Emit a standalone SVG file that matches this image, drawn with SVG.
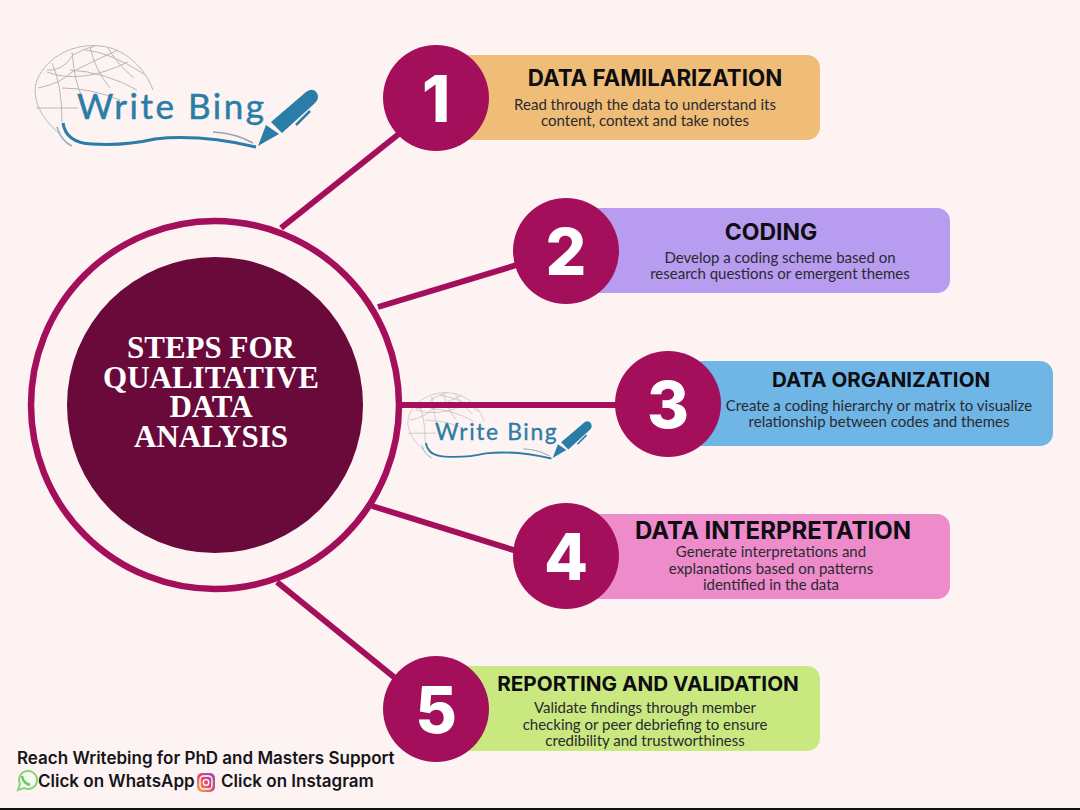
<svg xmlns="http://www.w3.org/2000/svg" xmlns:xlink="http://www.w3.org/1999/xlink" width="1080" height="810" viewBox="0 0 1080 810">
<style>
.num{font-family:"Inter","Liberation Sans",sans-serif;font-weight:800;font-size:64px;fill:#fff;text-anchor:middle}
.ttl{font-family:"Inter","Liberation Sans",sans-serif;font-weight:700;fill:#0d0d12;text-anchor:middle}
.txt{font-family:"Lato","Liberation Sans",sans-serif;font-size:15px;fill:#2a2a30;text-anchor:middle}
.cen{font-family:"Liberation Serif",serif;font-weight:700;font-size:31px;fill:#fff;text-anchor:middle}
.foot{font-family:"Inter","Liberation Sans",sans-serif;font-weight:600;font-size:17px;fill:#15151a}
.conn{stroke:#a30f5b;stroke-width:6;fill:none}
.disc{fill:#a30f5b}
.g{fill:none;stroke:#bdb6b6;stroke-width:1}
</style>
<defs>
<g id="logo">
<g class="g">
<path d="M60 134C40 118 31 97 37 80C47 56 75 43 100 46C125 48 145 68 153 90"/>
<path d="M36 108Q58 108 78 108M38 88Q60 84 72 72Q95 60 118 50M47 70Q62 72 73 55Q85 48 95 46"/>
<path d="M52 63Q62 85 62 122M72 52Q75 85 82 96M90 47Q95 70 110 88M108 48Q118 65 134 78M47 72Q80 85 128 62"/>
<path d="M62 88Q90 88 120 100M70 70Q105 72 137 90M85 50Q110 52 144 74"/>
</g>
<text x="77" y="119" font-family="Lato,'Liberation Sans',sans-serif" font-size="35" fill="#2a7da6" stroke="#2a7da6" stroke-width=".5" textLength="187" lengthAdjust="spacing">Write Bing</text>
<path d="M63 123Q66 143 92 144Q125 146 155 139Q200 134 256 147" fill="none" stroke="#2a7da6" stroke-width="3"/>
<path d="M57 127Q61 141 72 146" fill="none" stroke="#8fb3c4" stroke-width="1.5"/>
<path d="M213 132Q235 133 253 143" fill="none" stroke="#9aa5aa" stroke-width="1.5"/>
<path d="M258 146L266 125L279 134Z" fill="#2a7da6"/>
<path d="M271 122L306 92Q313 87 317 93Q320 99 314 104L282 133Z" fill="#2a7da6"/>
<path d="M310 111L296 125" stroke="#2a7da6" stroke-width="2.500" fill="none"/>
</g>
<linearGradient id="ig" x1="0" y1="1" x2="1" y2="0"><stop offset="0" stop-color="#f5b04a"/><stop offset=".5" stop-color="#e2486e"/><stop offset="1" stop-color="#8a4fc4"/></linearGradient>
</defs>
<rect width="1080" height="810" fill="#fdf3f3"/>
<rect y="808" width="1080" height="2" fill="#111"/>
<use id="logo-main" href="#logo" xlink:href="#logo"/>
<g id="logo-small" transform="translate(385 363) scale(.65)"><use href="#logo" xlink:href="#logo"/></g>
<g id="connectors">
<path class="conn" d="M281 228L400 133"/>
<path class="conn" d="M378 307L520 264"/>
<path class="conn" d="M402 405H620"/>
<path class="conn" d="M372 506L520 552"/>
<path class="conn" d="M277 582L400 682"/>
</g>
<g id="center">
<circle cx="215" cy="405" r="184" fill="none" stroke="#a30f5b" stroke-width="6.500"/>
<circle cx="215" cy="405" r="148" fill="#690a3b"/>
<text class="cen" x="211" y="358">STEPS FOR</text>
<text class="cen" x="211" y="388">QUALITATIVE</text>
<text class="cen" x="211" y="417">DATA</text>
<text class="cen" x="211" y="447">ANALYSIS</text>
</g>
<g id="step1">
<rect x="450" y="55" width="370" height="85" rx="13" fill="#efbd77"/>
<circle class="disc" cx="436" cy="98" r="53"/>
<text class="num" x="436" y="122">1</text>
<text class="ttl" x="655" y="86" font-size="22.300">DATA FAMILARIZATION</text>
<text class="txt" x="645" y="110">Read through the data to understand its</text>
<text class="txt" x="645" y="126">content, context and take notes</text>
</g>
<g id="step2">
<rect x="585" y="208" width="365" height="85" rx="13" fill="#b79cf0"/>
<circle class="disc" cx="566" cy="251" r="53"/>
<text class="num" x="566" y="275">2</text>
<text class="ttl" x="771" y="240" font-size="23">CODING</text>
<text class="txt" x="780" y="263">Develop a coding scheme based on</text>
<text class="txt" x="780" y="279">research questions or emergent themes</text>
</g>
<g id="step3">
<rect x="690" y="361" width="363" height="85" rx="13" fill="#6fb5e5"/>
<circle class="disc" cx="668" cy="404" r="53"/>
<text class="num" x="668" y="428">3</text>
<text class="ttl" x="881" y="387" font-size="20.500">DATA ORGANIZATION</text>
<text class="txt" x="879" y="411">Create a coding hierarchy or matrix to visualize</text>
<text class="txt" x="879" y="427">relationship between codes and themes</text>
</g>
<g id="step4">
<rect x="585" y="514" width="365" height="85" rx="13" fill="#ee8bcb"/>
<circle class="disc" cx="566" cy="556" r="53"/>
<text class="num" x="566" y="580">4</text>
<text class="ttl" x="773" y="539" font-size="24">DATA INTERPRETATION</text>
<text class="txt" x="771" y="557">Generate interpretations and</text>
<text class="txt" x="771" y="574">explanations based on patterns</text>
<text class="txt" x="771" y="590">identified in the data</text>
</g>
<g id="step5">
<rect x="450" y="666" width="370" height="85" rx="13" fill="#c9e87f"/>
<circle class="disc" cx="436" cy="709" r="53"/>
<text class="num" x="436" y="733">5</text>
<text class="ttl" x="648" y="691" font-size="20.700">REPORTING AND VALIDATION</text>
<text class="txt" x="645" y="713">Validate findings through member</text>
<text class="txt" x="645" y="730">checking or peer debriefing to ensure</text>
<text class="txt" x="645" y="746">credibility and trustworthiness</text>
</g>
<g id="footer">
<text class="foot" x="17" y="764">Reach Writebing for PhD and Masters Support</text>
<text class="foot" x="38" y="787">Click on WhatsApp</text>
<text class="foot" x="221" y="787">Click on Instagram</text>
<g id="wa"><path d="M18 790L20 784A9 9 0 1 1 24 788Z" fill="#f2fbf0" stroke="#8ad27e" stroke-width="2"/><path d="M22 776Q23 783 30 785" fill="none" stroke="#6cc75f" stroke-width="2.500"/></g>
<g id="ig-icon"><rect x="197" y="773" width="18" height="19" rx="5" fill="url(#ig)"/><rect x="200" y="776" width="12" height="13" rx="3.500" fill="none" stroke="#fff" stroke-width="1.300"/><circle cx="206" cy="782.500" r="2.800" fill="none" stroke="#fff" stroke-width="1.300"/></g>
</g>
</svg>
